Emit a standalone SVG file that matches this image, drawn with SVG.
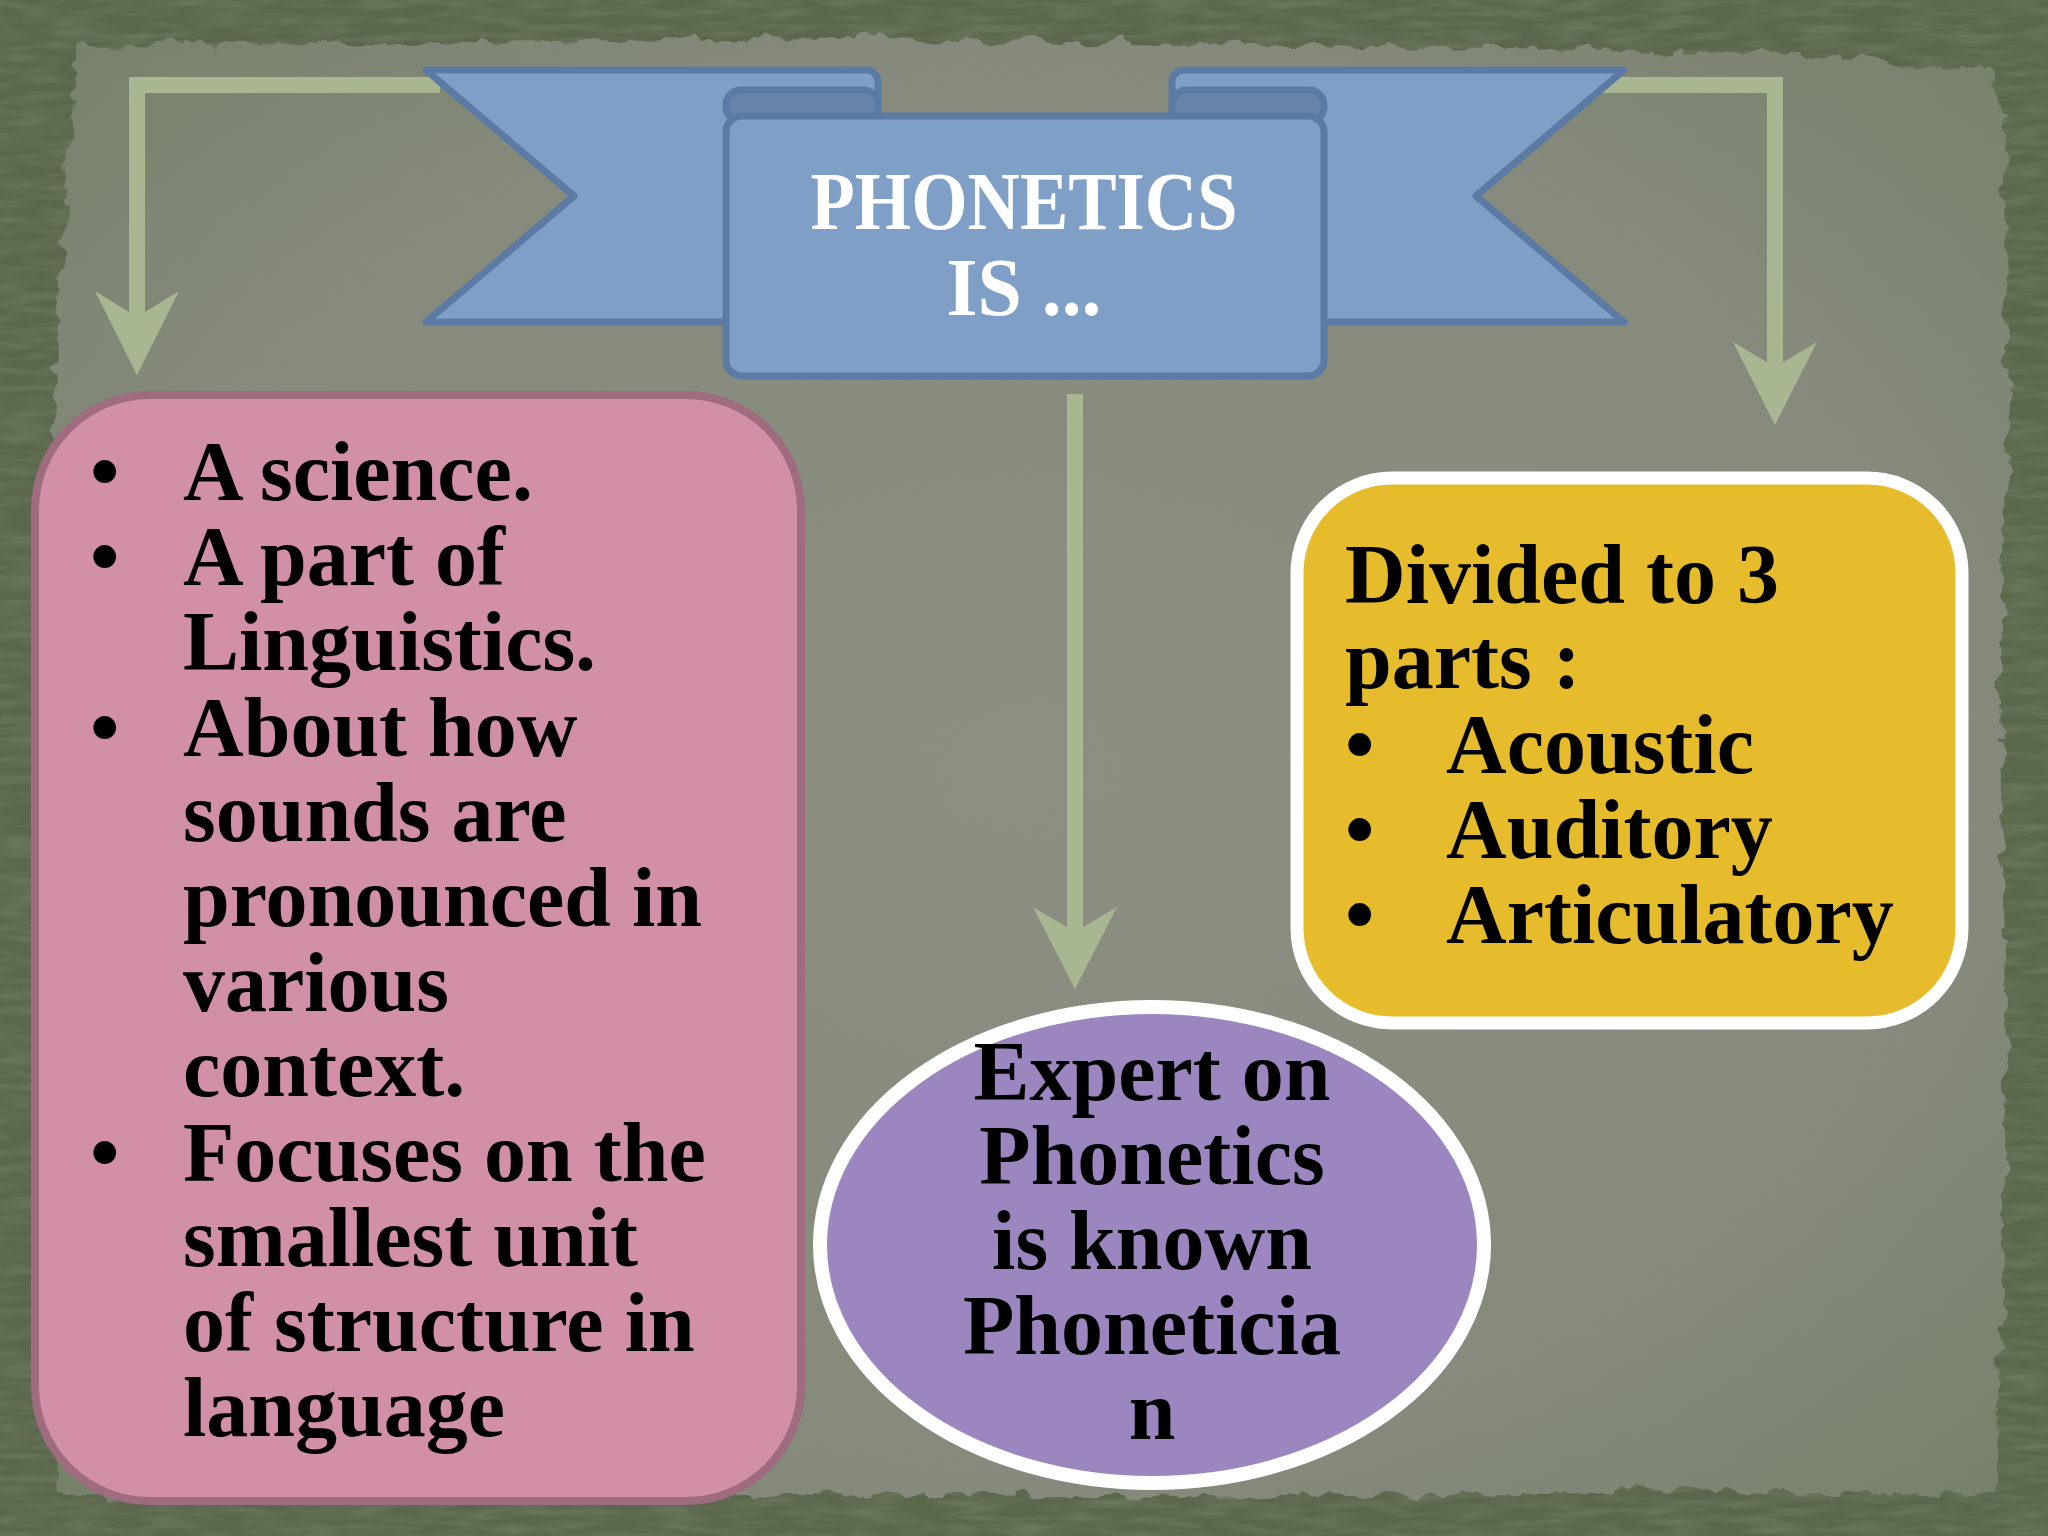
<svg xmlns="http://www.w3.org/2000/svg" width="2048" height="1536" viewBox="0 0 2048 1536">
<defs>
<style>
.conn{fill:none;stroke:#a8b692;stroke-width:16;stroke-linejoin:miter}
.head{fill:#a8b692}
.rib{fill:#7f9fc7;stroke:#5b7aa4;stroke-width:7;stroke-linejoin:round}
.ribd{fill:#6884ab;stroke:#5b7aa4;stroke-width:7;stroke-linejoin:round}
.t{font-family:"Liberation Serif","Times New Roman",serif;font-weight:bold;font-size:84px;fill:#000}
.c{text-anchor:middle}
.w{font-family:"Liberation Serif","Times New Roman",serif;font-weight:bold;font-size:82px;fill:#ffffff}
</style>
<radialGradient id="paperG" cx="0.5" cy="0.5" r="0.7">
<stop offset="0" stop-color="#8c8f82"/>
<stop offset="0.7" stop-color="#858a7b"/>
<stop offset="1" stop-color="#77816a"/>
</radialGradient>
<filter id="torn" x="-5%" y="-5%" width="110%" height="110%">
<feTurbulence type="fractalNoise" baseFrequency="0.04" numOctaves="3" seed="3" result="n"/>
<feDisplacementMap in="SourceGraphic" in2="n" scale="22" xChannelSelector="R" yChannelSelector="G"/>
</filter>
<filter id="grain" x="0" y="0" width="100%" height="100%">
<feTurbulence type="fractalNoise" baseFrequency="0.02 0.12" numOctaves="3" seed="7"/>
<feColorMatrix type="matrix" values="0 0 0 0 0.25  0 0 0 0 0.3  0 0 0 0 0.2  0 0 0 -1.4 0.9"/>
</filter>
</defs>

<g id="background">
<rect x="0" y="0" width="2048" height="1536" fill="#5b674c"/>
<rect x="0" y="0" width="2048" height="1536" filter="url(#grain)" opacity="0.5"/>
<path filter="url(#torn)" fill="url(#paperG)" d="M78,46 L400,42 L700,38 L1000,40 L1250,44 L1500,48 L1800,54 L1990,70 L2003,120 L2008,400 L2000,700 L2006,1000 L2002,1300 L1995,1495 L1600,1492 L1200,1497 L800,1494 L400,1498 L60,1495 L48,1200 L40,900 L45,600 L55,350 L70,150 Z"/>
</g>

<g id="connectors">
<path class="conn" d="M440,85 L137,85 L137,330"/>
<polygon class="head" points="137,375 95,291 137,317 179,291"/>
<path class="conn" d="M1600,85 L1775,85 L1775,380"/>
<polygon class="head" points="1775,425 1733,342 1775,367 1817,342"/>
<path class="conn" d="M1075,394 L1075,940"/>
<polygon class="head" points="1075,989 1033,907 1075,932 1117,907"/>
</g>

<g id="phonetics-banner">
<path class="rib" d="M426,70 L866,70 A12,12 0 0 1 878,82 L878,322 L426,322 L574,196 Z"/>
<path class="rib" transform="translate(2050,0) scale(-1,1)" d="M426,70 L866,70 A12,12 0 0 1 878,82 L878,322 L426,322 L574,196 Z"/>
<rect class="ribd" x="726" y="90" width="152" height="32" rx="15"/>
<rect class="ribd" x="1172" y="90" width="152" height="32" rx="15"/>
<rect class="rib" x="726" y="116" width="598" height="260" rx="16"/>
<text class="w c" x="1024" y="229" textLength="427" lengthAdjust="spacingAndGlyphs">PHONETICS</text>
<text class="w c" x="1024" y="315" textLength="155" lengthAdjust="spacingAndGlyphs">IS ...</text>
</g>

<g id="definition-box">
<rect x="35" y="395" width="766" height="1106" rx="115" fill="#d28fa8" stroke="#9e6b7f" stroke-width="8"/>
<text class="t"><tspan x="90" y="500">•</tspan><tspan x="183" y="500">A science.</tspan><tspan x="90" y="585">•</tspan><tspan x="183" y="585">A part of</tspan><tspan x="183" y="670">Linguistics.</tspan><tspan x="90" y="756">•</tspan><tspan x="183" y="756">About how</tspan><tspan x="183" y="841">sounds are</tspan><tspan x="183" y="926">pronounced in</tspan><tspan x="183" y="1011">various</tspan><tspan x="183" y="1096">context.</tspan><tspan x="90" y="1181">•</tspan><tspan x="183" y="1181">Focuses on the</tspan><tspan x="183" y="1266">smallest unit</tspan><tspan x="183" y="1351">of structure in</tspan><tspan x="183" y="1436">language</tspan></text>
</g>

<g id="expert-ellipse">
<ellipse cx="1152" cy="1245" rx="332" ry="238" fill="#9b86c0" stroke="#ffffff" stroke-width="14"/>
<text class="t c" x="1152" y="1100">Expert on</text>
<text class="t c" x="1152" y="1184">Phonetics</text>
<text class="t c" x="1152" y="1269">is known</text>
<text class="t c" x="1152" y="1354">Phoneticia</text>
<text class="t c" x="1152" y="1439">n</text>
</g>

<g id="parts-box">
<rect x="1297" y="478" width="665" height="545" rx="95" fill="#e6bc2c" stroke="#ffffff" stroke-width="13"/>
<text class="t"><tspan x="1345" y="603">Divided to 3</tspan><tspan x="1345" y="688">parts :</tspan><tspan x="1345" y="773">•</tspan><tspan x="1446" y="773">Acoustic</tspan><tspan x="1345" y="858">•</tspan><tspan x="1446" y="858">Auditory</tspan><tspan x="1345" y="943">•</tspan><tspan x="1446" y="943">Articulatory</tspan></text>
</g>
</svg>
